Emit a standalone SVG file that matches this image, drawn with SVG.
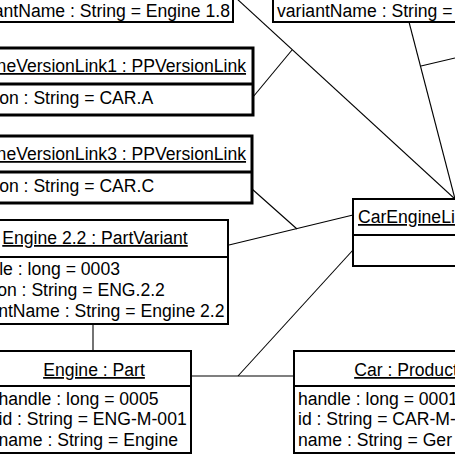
<svg xmlns="http://www.w3.org/2000/svg" width="455" height="455" viewBox="0 0 455 455">
<style>
.box{fill:#fff;stroke:#000;stroke-width:2}
.thick{fill:#fff;stroke:#000;stroke-width:3}
.sep{stroke:#000;stroke-width:2}
.sep3{stroke:#000;stroke-width:3}
.t{font-family:"Liberation Sans",Arial,Helvetica,sans-serif;font-size:17.6px;fill:#000}
.u{text-decoration:underline}
.m{text-anchor:middle}
.c{stroke:#000;stroke-width:1.1;fill:none}
</style>
<rect width="455" height="455" fill="#fff"/>
<g id="connectors">
<line class="c" x1="236" y1="-2" x2="455" y2="199"/>
<line class="c" x1="253" y1="97" x2="292" y2="50"/>
<line class="c" x1="252" y1="189" x2="297" y2="229"/>
<line class="c" x1="229" y1="245" x2="353" y2="215"/>
<line class="c" x1="93" y1="324" x2="93" y2="351"/>
<line class="c" x1="191" y1="376" x2="294" y2="376"/>
<line class="c" x1="238" y1="376" x2="353" y2="250"/>
<line class="c" x1="409" y1="22" x2="455" y2="199"/>
<line class="c" x1="421" y1="66" x2="455" y2="58"/>
</g>
<g id="engine18">
<rect class="box" x="-45" y="-30" width="278" height="52"/>
<text class="t" x="-34.6" y="17">variantName : String = Engine 1.8</text>
</g>
<g id="variantTopRight">
<rect class="box" x="273" y="-30" width="250" height="52"/>
<text class="t" x="277" y="17">variantName : String =</text>
</g>
<g id="versionLink1">
<rect class="thick" x="-42" y="48" width="295" height="67"/>
<line class="sep3" x1="-42" y1="84" x2="253" y2="84"/>
<text class="t u" x="-38.6" y="72">EngineVersionLink1 : PPVersionLink</text>
<text class="t" x="-38" y="104">version : String = CAR.A</text>
</g>
<g id="versionLink3">
<rect class="thick" x="-42" y="136" width="294" height="67"/>
<line class="sep3" x1="-42" y1="172" x2="252" y2="172"/>
<text class="t u" x="-38.6" y="160">EngineVersionLink3 : PPVersionLink</text>
<text class="t" x="-38" y="192">version : String = CAR.C</text>
</g>
<g id="engine22">
<rect class="box" x="-44" y="220" width="272" height="104"/>
<line class="sep" x1="-44" y1="257" x2="228" y2="257"/>
<text class="t u m" x="95" y="244">Engine 2.2 : PartVariant</text>
<text class="t" x="-40" y="275">handle : long = 0003</text>
<text class="t" x="-40" y="296">version : String = ENG.2.2</text>
<text class="t" x="-40" y="317">variantName : String = Engine 2.2</text>
</g>
<g id="carEngineLink">
<rect class="box" x="353" y="199" width="200" height="67"/>
<line class="sep" x1="353" y1="235" x2="553" y2="235"/>
<text class="t u" x="358" y="223">CarEngineLink</text>
</g>
<g id="enginePart">
<rect class="box" x="-4" y="351" width="195" height="102"/>
<line class="sep" x1="-4" y1="386" x2="191" y2="386"/>
<text class="t u m" x="94" y="376">Engine : Part</text>
<text class="t" x="-1.5" y="405">handle : long = 0005</text>
<text class="t" x="-1.5" y="425">id : String = ENG-M-001</text>
<text class="t" x="-1.5" y="446">name : String = Engine</text>
</g>
<g id="carProduct">
<rect class="box" x="294" y="351" width="222" height="102"/>
<line class="sep" x1="294" y1="386" x2="516" y2="386"/>
<text class="t u m" x="406" y="376">Car : Product</text>
<text class="t" x="298" y="405">handle : long = 0001</text>
<text class="t" x="298" y="425">id : String = CAR-M-001</text>
<text class="t" x="298" y="446">name : String = Ger</text>
</g>
</svg>
